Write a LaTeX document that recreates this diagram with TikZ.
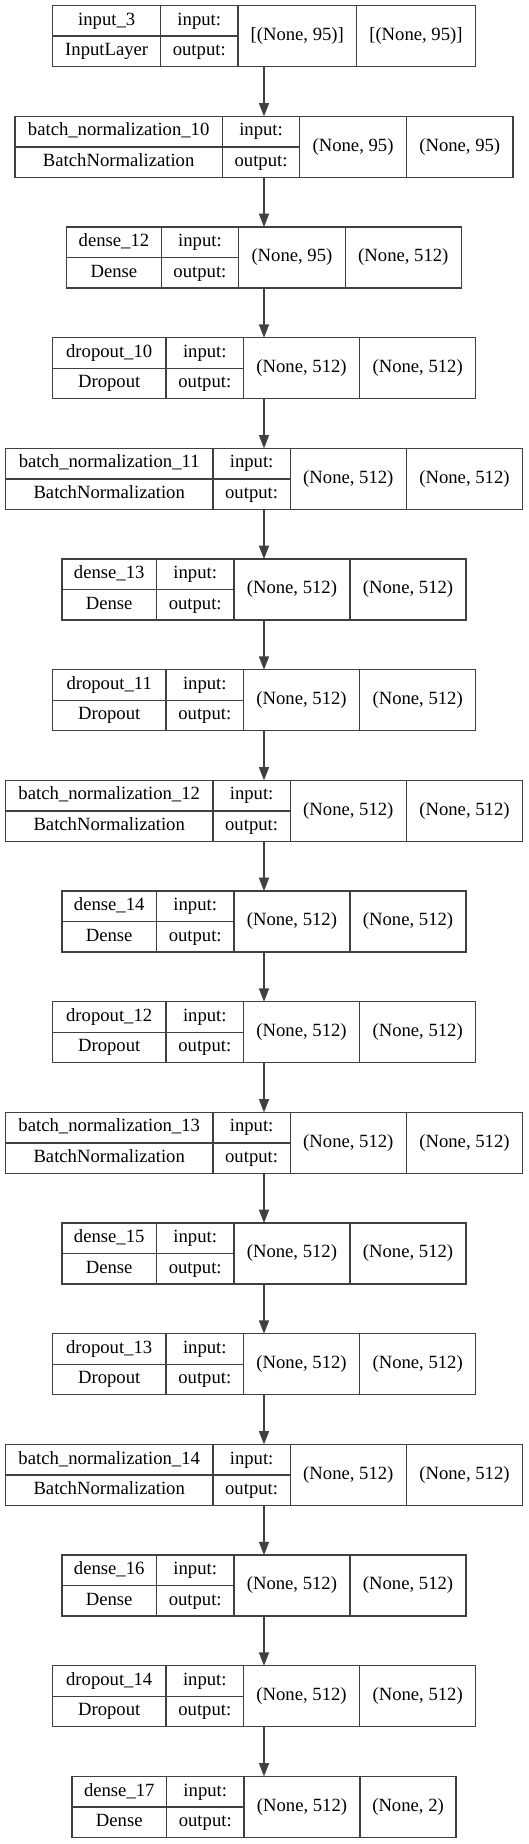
\documentclass[tikz,border=0pt]{standalone}
\usepackage{fontspec}
\setmainfont{Liberation Serif}
\usetikzlibrary{positioning, arrows.meta}

% one layer record: id, row, name, class, in shape, out shape, column widths in pt
\newcommand{\layer}[9]{%
  \node[frame, minimum width={(#7+58+#8+#9)*1pt}] (#1) at (198pt, {-27.175pt-83pt*#2}) {};
  \node[cell, minimum width=#7pt, anchor=north west] (#1-name) at (#1.north west) {#3};
  \node[cell, minimum width=#7pt, below=0pt of #1-name] (#1-class) {#4};
  \node[cell, minimum width=58pt, right=0pt of #1-name] (#1-inlbl) {input:};
  \node[cell, minimum width=58pt, right=0pt of #1-class] (#1-outlbl) {output:};
  \node[cell, tall, minimum width=#8pt, anchor=north west] (#1-in) at (#1-inlbl.north east) {#5};
  \node[cell, tall, minimum width=#9pt, right=0pt of #1-in] (#1-out) {#6};
}

\begin{document}
\begin{tikzpicture}[
  frame/.style={inner sep=0pt, outer sep=0pt, minimum height=45.75pt},
  cell/.style={draw=black!75, line width=1.1pt, inner sep=0pt, outer sep=0pt,
    minimum height=22.875pt, text height=9.5pt, text depth=3pt,
    font=\fontsize{14}{16}\selectfont},
  tall/.style={minimum height=45.75pt},
  flow/.style={draw=black!75, line width=1.1pt, -{Triangle[length=10pt, width=7.5pt]}}
]
\useasboundingbox (0,0) rectangle (396pt,-1383pt);

% Layers, top to bottom
\layer{in3}{0}{input\_3}{InputLayer}{[(None, 95)]}{[(None, 95)]}{80.9}{89}{89}
\layer{bn10}{1}{batch\_normalization\_10}{BatchNormalization}{(None, 95)}{(None, 95)}{155.6}{80}{80}
\layer{d12}{2}{dense\_12}{Dense}{(None, 95)}{(None, 512)}{71}{80}{87.1}
\layer{do10}{3}{dropout\_10}{Dropout}{(None, 512)}{(None, 512)}{85.4}{87.1}{87.1}
\layer{bn11}{4}{batch\_normalization\_11}{BatchNormalization}{(None, 512)}{(None, 512)}{155.6}{87.1}{87.1}
\layer{d13}{5}{dense\_13}{Dense}{(None, 512)}{(None, 512)}{71}{87.1}{87.1}
\layer{do11}{6}{dropout\_11}{Dropout}{(None, 512)}{(None, 512)}{85.4}{87.1}{87.1}
\layer{bn12}{7}{batch\_normalization\_12}{BatchNormalization}{(None, 512)}{(None, 512)}{155.6}{87.1}{87.1}
\layer{d14}{8}{dense\_14}{Dense}{(None, 512)}{(None, 512)}{71}{87.1}{87.1}
\layer{do12}{9}{dropout\_12}{Dropout}{(None, 512)}{(None, 512)}{85.4}{87.1}{87.1}
\layer{bn13}{10}{batch\_normalization\_13}{BatchNormalization}{(None, 512)}{(None, 512)}{155.6}{87.1}{87.1}
\layer{d15}{11}{dense\_15}{Dense}{(None, 512)}{(None, 512)}{71}{87.1}{87.1}
\layer{do13}{12}{dropout\_13}{Dropout}{(None, 512)}{(None, 512)}{85.4}{87.1}{87.1}
\layer{bn14}{13}{batch\_normalization\_14}{BatchNormalization}{(None, 512)}{(None, 512)}{155.6}{87.1}{87.1}
\layer{d16}{14}{dense\_16}{Dense}{(None, 512)}{(None, 512)}{71}{87.1}{87.1}
\layer{do14}{15}{dropout\_14}{Dropout}{(None, 512)}{(None, 512)}{85.4}{87.1}{87.1}
\layer{d17}{16}{dense\_17}{Dense}{(None, 512)}{(None, 2)}{71}{87.1}{72}

% Edges
\draw[flow] (in3) -- (bn10);
\draw[flow] (bn10) -- (d12);
\draw[flow] (d12) -- (do10);
\draw[flow] (do10) -- (bn11);
\draw[flow] (bn11) -- (d13);
\draw[flow] (d13) -- (do11);
\draw[flow] (do11) -- (bn12);
\draw[flow] (bn12) -- (d14);
\draw[flow] (d14) -- (do12);
\draw[flow] (do12) -- (bn13);
\draw[flow] (bn13) -- (d15);
\draw[flow] (d15) -- (do13);
\draw[flow] (do13) -- (bn14);
\draw[flow] (bn14) -- (d16);
\draw[flow] (d16) -- (do14);
\draw[flow] (do14) -- (d17);

\end{tikzpicture}
\end{document}
